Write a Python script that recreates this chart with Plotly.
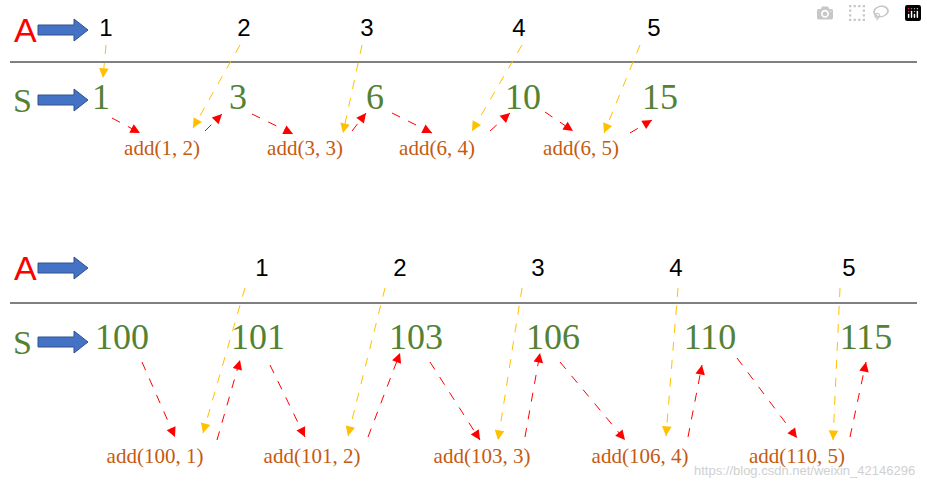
import plotly.graph_objects as go
import math

W, H = 927, 487
# ---- data ----
top_a = ["1", "2", "3", "4", "5"]
top_s = ["1", "3", "6", "10", "15"]
top_add = ["add(1, 2)", "add(3, 3)", "add(6, 4)", "add(6, 5)"]
bot_a = ["1", "2", "3", "4", "5"]
bot_s = ["100", "101", "103", "106", "110", "115"]
bot_add = ["add(100, 1)", "add(101, 2)", "add(103, 3)", "add(106, 4)", "add(110, 5)"]

# ---- layout positions ----
top_a_x = [106, 244, 367, 519, 654]
top_s_x = [101, 238, 375, 523, 660]
top_add_x = [162, 305, 437, 581]
bot_a_x = [262, 400, 538, 676, 849]
bot_s_x = [122, 258, 416, 553, 710, 866]
bot_add_x = [155, 312, 482, 640, 797]

top_red = [((112,118),(140,133)),((205,131),(222,114)),((252,114),(293,134)),((352,131),(366,113)),
           ((392,113),(432,133)),((490,131),(510,113)),((545,112),(573,131)),((630,133),(652,120))]
top_yel = [((106,45),(103,78)),((240,45),(193,128)),((362,45),(343,133)),((522,45),(472,131)),((640,45),(604,133))]
bot_red = [((142,362),(175,437)),((217,440),(240,360)),((270,365),(305,437)),((368,437),(400,353)),
           ((430,362),(480,440)),((525,437),(540,353)),((560,362),(625,440)),((688,437),(702,365)),
           ((737,358),(797,438)),((850,437),(866,362))]
bot_yel = [((245,288),(203,433)),((385,288),(348,436)),((522,288),(498,440)),((678,288),(666,436)),((840,288),(833,440))]

fig = go.Figure()
GREEN = "#548235"; ORANGE = "#C55A11"; RED = "#FF0000"; YEL = "#FFC000"; BLUE = "#4472C4"

def texts(xs, y, labels, color, size, family):
    fig.add_trace(go.Scatter(x=xs, y=[y]*len(xs), text=labels, mode="text", cliponaxis=False,
                             textfont=dict(color=color, size=size, family=family),
                             hoverinfo="skip", showlegend=False))

texts(top_a_x, 30, top_a, "black", 24, "Liberation Sans")
texts(top_s_x, 100, top_s, GREEN, 36, "Liberation Serif")
texts(top_add_x, 150, top_add, ORANGE, 21, "Liberation Serif")
texts(bot_a_x, 270, bot_a, "black", 24, "Liberation Sans")
texts(bot_s_x, 340, bot_s, GREEN, 36, "Liberation Serif")
texts(bot_add_x, 458, bot_add, ORANGE, 21, "Liberation Serif")

shapes = []
for y in (62, 303):
    shapes.append(dict(type="line", x0=10, x1=917, y0=y, y1=y, line=dict(color="black", width=1)))

def block(x0, y):
    x1 = x0 + 50
    p = f"M{x0},{y-5} L{x1-14},{y-5} L{x1-14},{y-11} L{x1},{y} L{x1-14},{y+11} L{x1-14},{y+5} L{x0},{y+5} Z"
    shapes.append(dict(type="path", path=p, fillcolor=BLUE, line=dict(color="#2F528F", width=1)))
for y in (30, 100, 268, 342):
    block(38, y)

ann = []
for y in (30, 268):
    ann.append(dict(x=25, y=y, xref="x", yref="y", text="A", showarrow=False,
                    font=dict(color=RED, size=34, family="Liberation Sans")))
for y in (100, 342):
    ann.append(dict(x=22, y=y, xref="x", yref="y", text="S", showarrow=False,
                    font=dict(color=GREEN, size=34, family="Liberation Serif")))

def arrow(seg, color):
    (x0, y0), (x1, y1) = seg
    shapes.append(dict(type="line", x0=x0, y0=y0, x1=x1, y1=y1, line=dict(color=color, width=1, dash="dash")))
    d = math.hypot(x1-x0, y1-y0)
    tx, ty = x1 - (x1-x0)/d*6, y1 - (y1-y0)/d*6
    ann.append(dict(x=x1, y=y1, ax=tx, ay=ty, axref="x", ayref="y", xref="x", yref="y", text="",
                    showarrow=True, arrowhead=2, arrowsize=1.6, arrowwidth=1.2, arrowcolor=color))
for s in top_red + bot_red:
    arrow(s, RED)
for s in top_yel + bot_yel:
    arrow(s, YEL)

ann.append(dict(x=917, y=470, xref="x", yref="y", xanchor="right", text="https://blog.csdn.net/weixin_42146296",
                showarrow=False, font=dict(color="#D0D0D0", size=13, family="Liberation Sans")))

fig.update_layout(width=W, height=H, margin=dict(l=0, r=0, t=0, b=0),
                  paper_bgcolor="white", plot_bgcolor="white", shapes=shapes, annotations=ann,
                  xaxis=dict(range=[0, W], visible=False, fixedrange=True),
                  yaxis=dict(range=[H, 0], visible=False, fixedrange=True))
fig.write_html("out.html", post_script="document.body.style.margin='0';")
